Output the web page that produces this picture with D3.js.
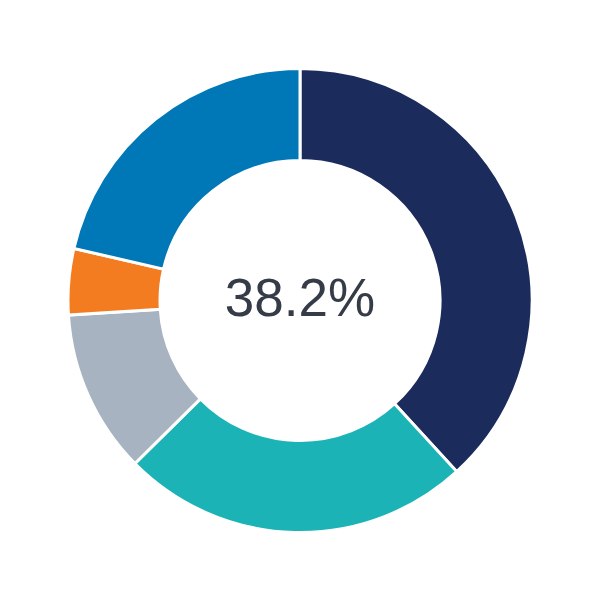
<!DOCTYPE html>
<html>
<head>
<meta charset="utf-8">
<script src="https://cdn.jsdelivr.net/npm/d3@7"></script>
<style>
html,body{margin:0;padding:0;background:#fff;}
</style>
</head>
<body>
<svg id="chart" width="600" height="600"></svg>
<script>
const categories = ["A", "B", "C", "D", "E"];
const values = [38.2, 24.4, 11.4, 4.6, 21.4];
const colors = ["#1b2b5b", "#1bb3b6", "#a8b3c2", "#f47c20", "#0077b6"];
const centerLabel = "38.2%";

const svg = d3.select("#chart");
const g = svg.append("g").attr("transform", "translate(300,300.5)");

const pie = d3.pie().sort(null).value(d => d.v);
const arc = d3.arc().innerRadius(140).outerRadius(232);
const data = categories.map((c, i) => ({c, v: values[i], col: colors[i]}));

g.selectAll("path").data(pie(data)).join("path")
  .attr("d", arc)
  .attr("fill", d => d.data.col)
  .attr("stroke", "#fff")
  .attr("stroke-width", 3)
  .attr("stroke-linejoin", "miter");

g.append("text")
  .attr("x", 0).attr("y", 15)
  .attr("text-anchor", "middle")
  .attr("font-family", "Liberation Sans, Arial, sans-serif")
  .attr("font-size", 53)
  .attr("fill", "#363b48")
  .text(centerLabel);
</script>
</body>
</html>
